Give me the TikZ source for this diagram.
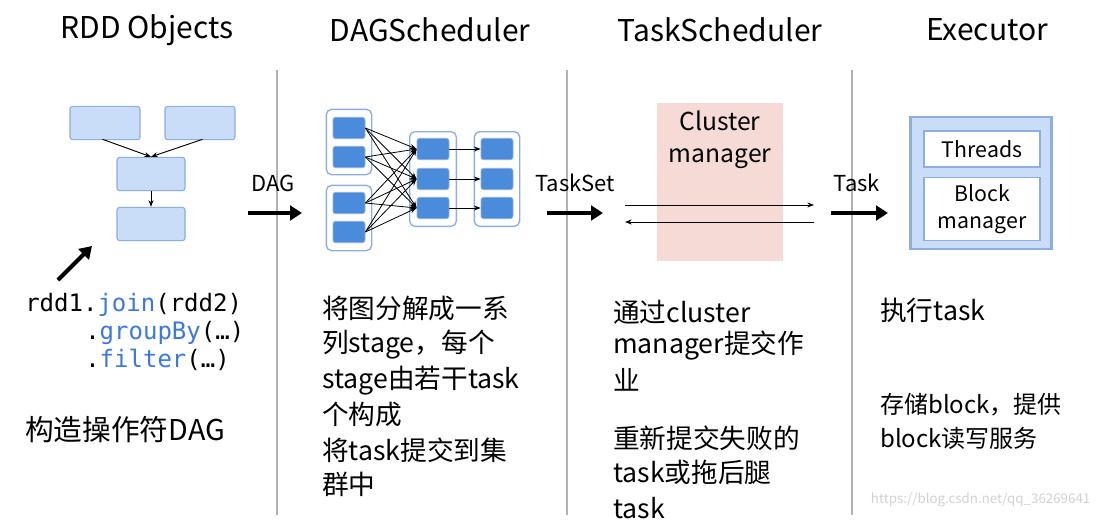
\documentclass[tikz,border=0pt]{standalone}
\usepackage{fontspec}
\setmainfont{Noto Sans CJK SC}
\newfontfamily\codefont{DejaVu Sans Mono}
\usetikzlibrary{arrows.meta}
\definecolor{rddfill}{HTML}{C9DCF8}
\definecolor{rddline}{HTML}{8EAEDD}
\definecolor{dagblue}{HTML}{4A8BDB}
\definecolor{codeblue}{HTML}{3C78E0}
\definecolor{pinkbg}{HTML}{F6DAD6}
\begin{document}
\begin{tikzpicture}[x=0.75pt,y=-0.75pt,
  title/.style={font=\fontsize{22.5}{26}\selectfont,anchor=center},
  body/.style={font=\fontsize{20}{24}\selectfont,anchor=west,inner sep=0},
  lbl/.style={font=\fontsize{16.5}{20}\selectfont,anchor=center},
  code/.style={font=\codefont\fontsize{18}{22}\selectfont,anchor=west,inner sep=0},
  rdd/.style={draw=rddline,fill=rddfill,rounded corners=2pt,line width=0.8pt},
  grp/.style={draw=rddline,fill=white,rounded corners=4pt,line width=1pt},
  inner/.style={draw=rddline,fill=dagblue,rounded corners=2pt,line width=0.6pt},
  big/.style={line width=3pt,-{Triangle[length=9pt,width=11pt]}},
  thin/.style={line width=0.7pt,-{Stealth[length=5pt]}},
  divider/.style={draw=gray!60,line width=0.8pt}]
\useasboundingbox (0,0) rectangle (1100,532);
\fill[white] (0,0) rectangle (1100,532);
% dividers
\draw[divider] (277,70) -- (277,515);
\draw[divider] (567,70) -- (567,515);
\draw[divider] (852,70) -- (852,515);
% titles
\node[title] (t1) at (147,30) {RDD Objects};
\node[title] (t2) at (430,30) {DAGScheduler};
\node[title] (t3) at (720,30) {TaskScheduler};
\node[title] (t4) at (987,30) {Executor};
% RDD objects
\node[rdd,minimum width=52.5pt,minimum height=25pt] (r1) at (105,123) {};
\node[rdd,minimum width=52.5pt,minimum height=25pt] (r2) at (200,123) {};
\node[rdd,minimum width=51pt,minimum height=25pt] (r3) at (151,174) {};
\node[rdd,minimum width=51pt,minimum height=25pt] (r4) at (151,224) {};
\draw[thin,shorten <=-2pt] (r1.south) -- (r3.north);
\draw[thin,shorten <=-2pt] (r2.south) -- (r3.north);
\draw[thin] (r3) -- (r4);
\coordinate (ps) at (58,280);
\coordinate (pe) at (92,246);
\draw[big] (ps) -- (pe);
\node[code] (c1) at (25,305) {rdd1.\textcolor{codeblue}{join}(rdd2)};
\node[code] (c2) at (85,333) {.\textcolor{codeblue}{groupBy}(…)};
\node[code] (c3) at (85,360) {.\textcolor{codeblue}{filter}(…)};
\node[body,font=\fontsize{21.5}{26}\selectfont] (b1) at (25,430) {构造操作符DAG};
% DAG arrow
\node[lbl] (l1) at (273,183) {DAG};
\coordinate (a1s) at (248,213); \coordinate (a1e) at (302,213);
\draw[big] (a1s) -- (a1e);
% DAG diagram
\node[grp,minimum width=34pt,minimum height=49pt] (g1) at (349,142) {};
\node[grp,minimum width=34pt,minimum height=49pt] (g2) at (349,218) {};
\node[grp,minimum width=35pt,minimum height=71pt] (g3) at (433,179) {};
\node[grp,minimum width=34pt,minimum height=71pt] (g4) at (497,179) {};
\foreach \n/\x/\y in {i1/349/128,i2/349/157,i3/349/203,i4/349/232,j1/433/149,j2/433/179,j3/433/208,k1/497/149,k2/497/179,k3/497/208}
  \node[inner,minimum width=24pt,minimum height=16pt] (\n) at (\x,\y) {};
\foreach \a in {i1,i2,i3,i4}
  \foreach \b in {j1,j2,j3}
    \draw[line width=0.6pt,-{Stealth[length=5pt]}] (\a.east) -- (\b.west);
\draw[thin] (j1) -- (k1);
\draw[thin] (j2) -- (k2);
\draw[thin] (j3) -- (k3);
\node[body] (d1) at (322,308) {将图分解成一系};
\node[body] (d2) at (322,345) {列stage，每个};
\node[body] (d3) at (322,381) {stage由若干task};
\node[body] (d4) at (322,414) {个构成};
\node[body] (d5) at (322,450) {将task提交到集};
\node[body] (d6) at (322,484) {群中};
% TaskSet
\node[lbl] (l2) at (575,183) {TaskSet};
\coordinate (a2s) at (547,213); \coordinate (a2e) at (603,213);
\draw[big] (a2s) -- (a2e);
\node[fill=pinkbg,minimum width=94.5pt,minimum height=119pt,inner sep=0] (cm) at (720,182) {};
\node[font=\fontsize{18.5}{24}\selectfont,align=center] (cmt) at (720,140) {Cluster\\manager};
\coordinate (p1) at (625,205); \coordinate (p2) at (814,205);
\coordinate (q1) at (814,222); \coordinate (q2) at (625,222);
\draw[thin] (p1) -- (p2);
\draw[thin] (q1) -- (q2);
\node[body] (e1) at (613,312) {通过cluster};
\node[body] (e2) at (613,346) {manager提交作};
\node[body] (e3) at (613,380) {业};
\node[body] (e4) at (613,438) {重新提交失败的};
\node[body] (e5) at (613,472) {task或拖后腿};
\node[body] (e6) at (613,508) {task};
% Task
\node[lbl] (l3) at (857,183) {Task};
\coordinate (a3s) at (831,213); \coordinate (a3e) at (888,213);
\draw[big] (a3s) -- (a3e);
\node[draw=rddline,fill=rddfill,line width=2pt,minimum width=106pt,minimum height=99pt,inner sep=0] (ex) at (981,183) {};
\node[draw=rddline,fill=white,line width=0.8pt,minimum width=87pt,minimum height=27pt,inner sep=0,font=\fontsize{16}{19}\selectfont] (th) at (982,149) {Threads};
\node[draw=rddline,fill=white,line width=0.8pt,minimum width=87pt,minimum height=47pt,inner sep=0,align=center,font=\fontsize{16}{20}\selectfont] (bm) at (982,209) {Block\\manager};
\node[body] (x1) at (880,310) {执行task};
\node[body,font=\fontsize{18}{22}\selectfont] (x2) at (880,405) {存储block，提供};
\node[body,font=\fontsize{18}{22}\selectfont] (x3) at (880,438) {block读写服务};
\node[anchor=east,font=\fontsize{10}{12}\selectfont,text=gray!35] (wm) at (1095,500) {https://blog.csdn.net/qq\_36269641};
\end{tikzpicture}
\end{document}
